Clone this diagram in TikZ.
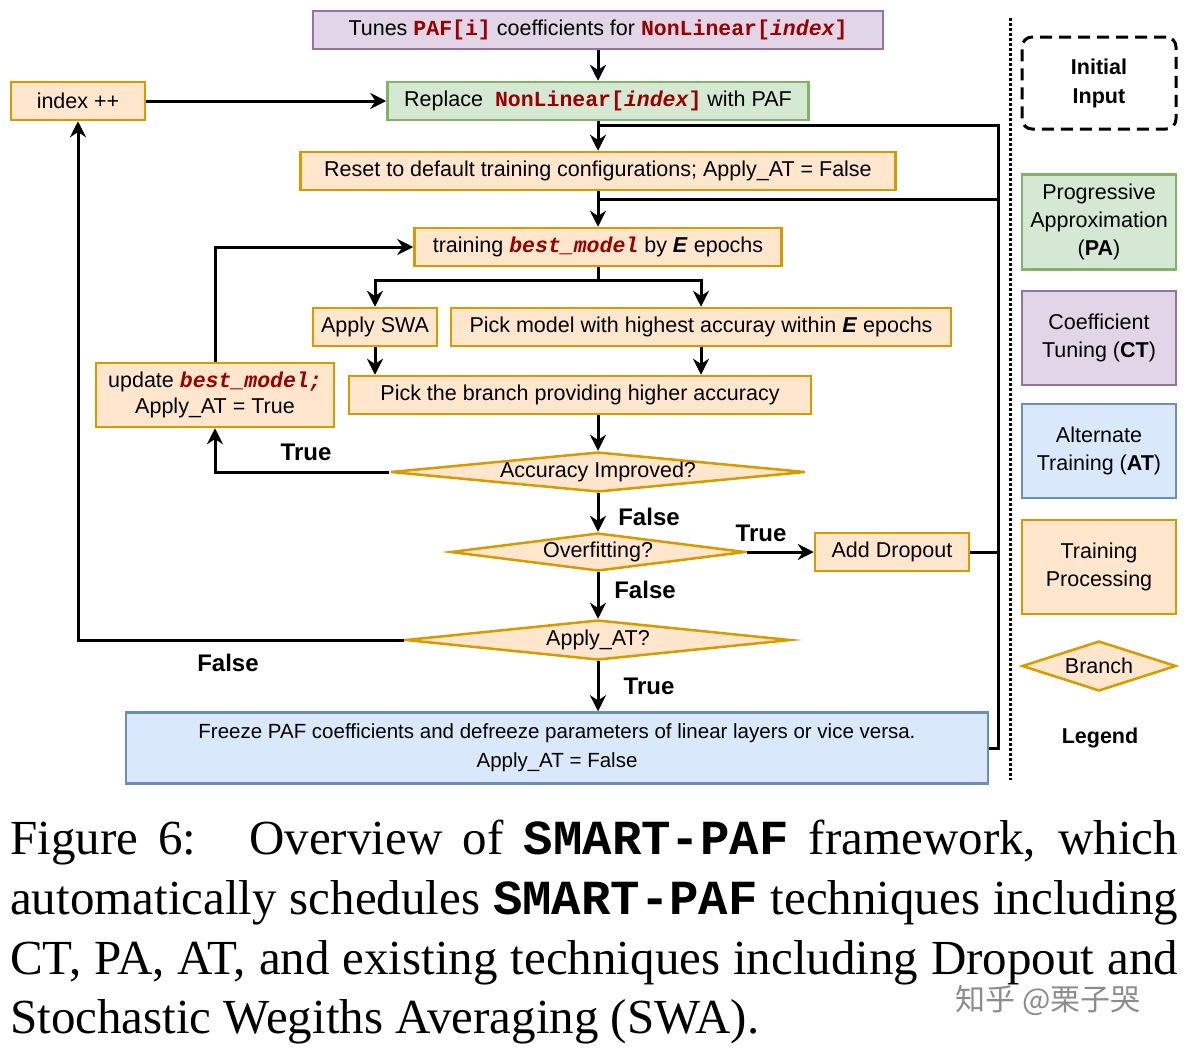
\documentclass[tikz,border=0pt]{standalone}
\usepackage{fontspec}
\setmainfont{Liberation Serif}
\setsansfont{Liberation Sans}
\setmonofont{Liberation Mono}
\newfontfamily\cjkf{Noto Sans CJK SC}
\usetikzlibrary{shapes.geometric,arrows.meta}
\definecolor{ofill}{HTML}{FFE6CC}\definecolor{ostroke}{HTML}{D79B00}
\definecolor{gfill}{HTML}{D5E8D4}\definecolor{gstroke}{HTML}{82B366}
\definecolor{pfill}{HTML}{E1D5E7}\definecolor{pstroke}{HTML}{9673A6}
\definecolor{bfill}{HTML}{DAE8FC}\definecolor{bstroke}{HTML}{6C8EBF}
\definecolor{code}{HTML}{990000}
\newcommand{\cd}[1]{{\ttfamily\bfseries\color{code}#1}}
\newcommand{\cdi}[1]{{\ttfamily\bfseries\itshape\color{code}#1}}
\begin{document}
\begin{tikzpicture}[x=1pt,y=-1pt,
  every node/.style={font=\sffamily\fontsize{21.5}{26}\selectfont},
  box/.style={draw, line width=2.5pt, minimum height=38pt, inner sep=0pt, anchor=center},
  tr/.style={box, fill=ofill, draw=ostroke},
  dia/.style={diamond, aspect=10, draw=ostroke, fill=ofill, line width=2.5pt, inner sep=0pt},
  arr/.style={line width=3pt, -{Stealth[length=16pt,width=16pt]}},
  ln/.style={line width=3pt},
  lab/.style={font=\sffamily\bfseries\fontsize{24}{28}\selectfont},
  leg/.style={font=\sffamily\fontsize{21.5}{28}\selectfont},
  captxt/.style={font=\rmfamily\fontsize{49}{56}\selectfont, anchor=west, inner sep=0pt}]
\useasboundingbox (0,0) rectangle (1188,1050);
% main nodes
\node[box, fill=pfill, draw=pstroke, minimum width=570pt] (ct) at (598,30) {Tunes \cd{PAF[i]} coefficients for \cd{NonLinear[}\cdi{index}\cd{]}};
\node[tr, minimum width=134pt] (idx) at (78,101) {index ++};
\node[box, fill=gfill, draw=gstroke, minimum width=421pt] (rep) at (598,101) {Replace \ \cd{NonLinear[}\cdi{index}\cd{]} with PAF};
\node[tr, minimum width=595pt] (reset) at (598,171) {Reset to default training configurations; Apply\_AT = False};
\node[tr, minimum width=367pt] (train) at (598,247) {training \cdi{best\_model} by \textbf{\textit{E}} epochs};
\node[tr, minimum width=124pt] (swa) at (375,327) {Apply SWA};
\node[tr, minimum width=500pt] (pick) at (701,327) {Pick model with highest accuray within \textbf{\textit{E}} epochs};
\node[tr, minimum width=238pt, minimum height=64pt, align=center] (upd) at (215,395) {update \cdi{best\_model;}\\Apply\_AT = True};
\node[tr, minimum width=462pt] (branch) at (580,395) {Pick the branch providing higher accuracy};
\node[dia, minimum width=415pt, minimum height=40pt] (acc) at (598,472) {Accuracy Improved?};
\node[dia, minimum width=289pt, minimum height=38pt, aspect=16, inner sep=-4pt] (ovf) at (598,552) {Overfitting?};
\node[tr, minimum width=154pt] (drop) at (892,552) {Add Dropout};
\node[dia, minimum width=385pt, minimum height=40pt] (aat) at (598,640) {Apply\_AT?};
\node[box, fill=bfill, draw=bstroke, minimum width=862pt, minimum height=71pt, align=center, font=\sffamily\fontsize{20.5}{29}\selectfont] (frz) at (557,748) {Freeze PAF coefficients and defreeze parameters of linear layers or vice versa.\\Apply\_AT = False};
% connectors
\draw[arr] (ct) -- (rep);
\draw[arr] (idx) -- (rep);
\draw[arr] (rep) -- (reset);
\draw[arr] (reset) -- (train);
\coordinate (sp) at (598,280);
\draw[ln] (train.south) -- (sp);
\draw[arr] (sp) -| (swa.north);
\draw[arr] (sp) -| (pick.north);
\draw[arr] (swa.south) -- (swa.south |- branch.north);
\draw[arr] (pick.south) -- (pick.south |- branch.north);
\draw[arr] (branch.south -| acc.north) -- (acc.north);
\draw[arr] (acc.west) -| (upd.south);
\draw[arr] (upd.north) |- (train.west);
\draw[arr] (acc) -- (ovf);
\draw[arr] (ovf.east) -- (drop.west);
\draw[arr] (ovf) -- (aat);
\draw[arr] (aat.west) -| (idx.south);
\draw[arr] (aat) -- (frz.north -| aat.south);
\coordinate (r1) at (998,125); \coordinate (r2) at (998,199);
\draw[ln] (frz.east) -| (r1) -- (598,125);
\draw[ln] (drop.east) -- (998,552);
\draw[ln] (r2) -- (598,199);
% labels
\node[lab] (l1) at (306,452) {True};
\node[lab] (l2) at (649,517) {False};
\node[lab] (l3) at (761,533) {True};
\node[lab] (l4) at (645,590) {False};
\node[lab] (l5) at (228,663) {False};
\node[lab] (l6) at (649,686) {True};
% legend
\draw[line width=3pt, dotted] (1010,18) -- (1010,780);
\node[draw, dash pattern=on 12pt off 7pt, line width=3pt, rounded corners=10pt, minimum width=154pt, minimum height=92pt, align=center, font=\sffamily\bfseries\fontsize{21.5}{29}\selectfont] (g1) at (1099,83) {Initial\\Input};
\node[box, fill=gfill, draw=gstroke, minimum width=154pt, minimum height=95pt, align=center, leg] (g2) at (1099,222) {Progressive\\Approximation\\(\textbf{PA})};
\node[box, fill=pfill, draw=pstroke, minimum width=154pt, minimum height=94pt, align=center, leg] (g3) at (1099,338) {Coefficient\\Tuning (\textbf{CT})};
\node[box, fill=bfill, draw=bstroke, minimum width=154pt, minimum height=94pt, align=center, leg] (g4) at (1099,451) {Alternate\\Training (\textbf{AT})};
\node[tr, minimum width=154pt, minimum height=94pt, align=center, leg] (g5) at (1099,567) {Training\\Processing};
\node[dia, minimum width=154pt, minimum height=50pt, aspect=3] (g6) at (1099,666) {Branch};
\node[font=\sffamily\bfseries\fontsize{21.5}{24}\selectfont] (g7) at (1100,738) {Legend};
% caption
\node[captxt] (c1) at (10,843) {\makebox[1168pt][s]{Figure 6: \ Overview of \texttt{\bfseries SMART-PAF} framework, which}};
\node[captxt] (c2) at (10,903) {\makebox[1168pt][s]{automatically schedules \texttt{\bfseries SMART-PAF} techniques including}};
\node[captxt] (c3) at (10,963) {\makebox[1168pt][s]{CT, PA, AT, and existing techniques including Dropout and}};
\node[captxt] (c4) at (10,1022) {Stochastic Wegiths Averaging (SWA).};
\node[font=\cjkf\fontsize{30}{36}\selectfont, text=black!45] (wm) at (1048,1000) {知乎 @栗子哭};
\end{tikzpicture}
\end{document}
